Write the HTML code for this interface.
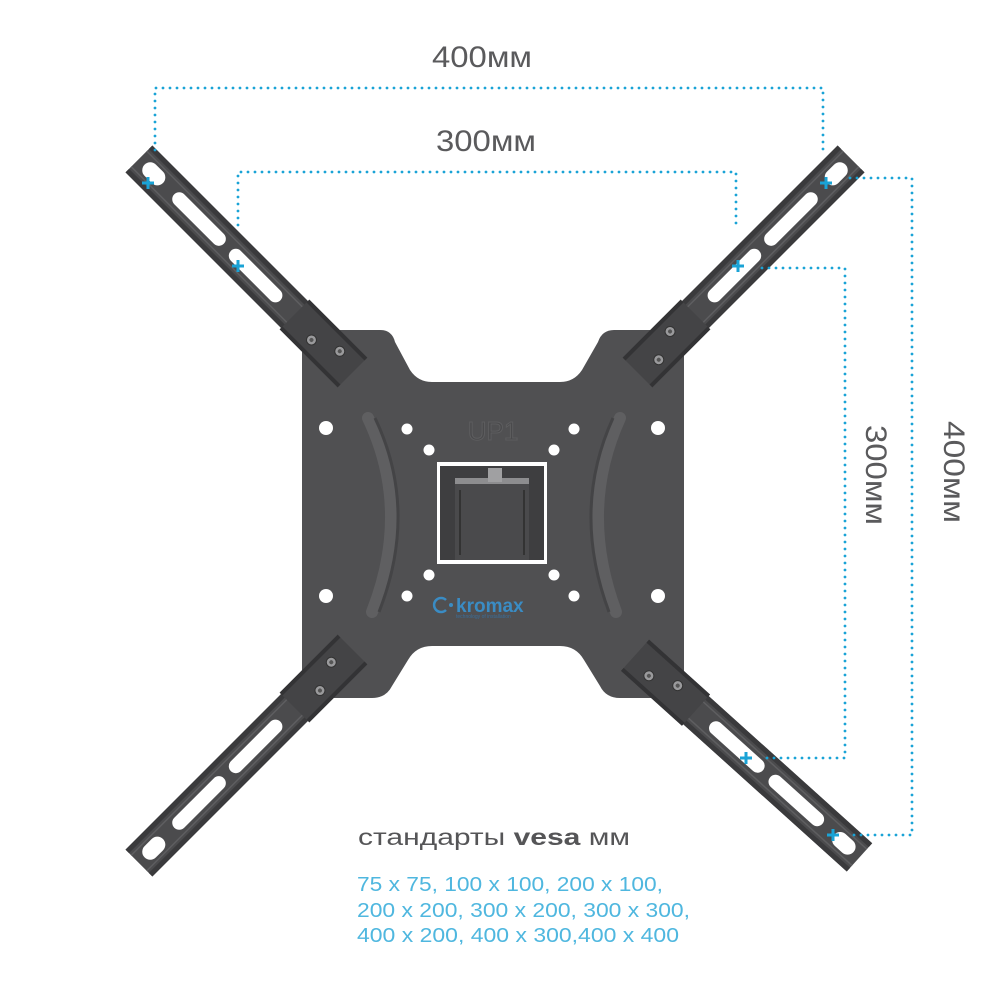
<!DOCTYPE html>
<html><head><meta charset="utf-8"><style>
html,body{margin:0;padding:0;background:#fff;}
svg{display:block;}
text{font-family:"Liberation Sans","DejaVu Sans",sans-serif;}
</style></head><body>
<svg width="1000" height="1000" viewBox="0 0 1000 1000" xmlns="http://www.w3.org/2000/svg">
<defs>
<g id="arm">
  <rect x="-150" y="-19" width="300" height="38" fill="#4b4b4d"/>
  <rect x="-150" y="-19" width="300" height="5" fill="#3a3a3c"/>
  <rect x="-150" y="14" width="300" height="5" fill="#3a3a3c"/>
  <line x1="-150" y1="-11" x2="150" y2="-11" stroke="#5e5e60" stroke-width="1.5"/>
  <line x1="-150" y1="11" x2="150" y2="11" stroke="#5e5e60" stroke-width="1.5"/>
  <rect x="-142" y="-8" width="26" height="16" rx="8" fill="#fff"/>
  <rect x="-100" y="-7" width="70" height="14" rx="7" fill="#fff"/>
  <rect x="-20" y="-7" width="70" height="14" rx="7" fill="#fff"/>
  <rect x="70" y="-21" width="82" height="42" fill="#444446"/>
  <rect x="70" y="-21" width="82" height="4" fill="#333335"/>
  <rect x="70" y="17" width="82" height="4" fill="#333335"/>
  <circle cx="100" cy="6" r="5" fill="#9a9a9c" stroke="#333" stroke-width="1"/>
  <circle cx="100" cy="6" r="2" fill="#555"/>
  <circle cx="128" cy="-6" r="5" fill="#9a9a9c" stroke="#333" stroke-width="1"/>
  <circle cx="128" cy="-6" r="2" fill="#555"/>
</g>
<g id="plus"><path d="M-6 0H6M0 -6V6" stroke="#1aa3d6" stroke-width="3"/></g>
</defs>

<path d="M348 330 L380 330 Q392 330 395 342 L410 370 Q418 382 432 382 L560 382 Q574 382 582 370 L598 342 Q602 330 614 330 L670 330 Q684 330 684 344 L684 684 Q684 698 670 698 L620 698 Q606 698 600 686 L584 660 Q576 646 560 646 L432 646 Q416 646 408 660 L392 686 Q386 698 372 698 L316 698 Q302 698 302 684 L302 344 Q302 330 316 330 Z" fill="#505052"/>
<path d="M368 418 Q412 510 372 612" stroke="#5f5f61" stroke-width="12" fill="none" stroke-linecap="round"/>
<path d="M368 418 Q412 510 372 612" stroke="#444446" stroke-width="3" fill="none" transform="translate(7,0)"/>
<path d="M620 418 Q578 510 616 612" stroke="#5f5f61" stroke-width="12" fill="none" stroke-linecap="round"/>
<path d="M620 418 Q578 510 616 612" stroke="#444446" stroke-width="3" fill="none" transform="translate(-7,0)"/>
<text x="493" y="440" font-size="26" fill="#4a4a4c" stroke="#5d5d5f" stroke-width="1" text-anchor="middle">UP1</text>
<g fill="#fff">
<circle cx="326" cy="428" r="7"/><circle cx="658" cy="428" r="7"/>
<circle cx="326" cy="596" r="7"/><circle cx="658" cy="596" r="7"/>
<circle cx="407" cy="429" r="5.5"/><circle cx="574" cy="429" r="5.5"/>
<circle cx="429" cy="450" r="5.5"/><circle cx="554" cy="450" r="5.5"/>
<circle cx="429" cy="575" r="5.5"/><circle cx="554" cy="575" r="5.5"/>
<circle cx="407" cy="596" r="5.5"/><circle cx="574" cy="596" r="5.5"/>
</g>
<rect x="437" y="462" width="110" height="102" fill="#fff"/>
<rect x="440" y="466" width="104" height="94" fill="#3e3e40"/>
<rect x="455" y="482" width="74" height="78" fill="#4a4a4c"/>
<rect x="455" y="478" width="74" height="6" fill="#8d8d8f"/>
<rect x="488" y="468" width="14" height="14" fill="#a0a0a2"/>
<line x1="460" y1="490" x2="460" y2="555" stroke="#333" stroke-width="2"/>
<line x1="524" y1="490" x2="524" y2="555" stroke="#333" stroke-width="2"/>
<text x="456" y="612" font-size="19" fill="#3a8cc4" font-weight="bold">kromax</text>
<path d="M446 600 a7 7 0 1 0 0 10" stroke="#3a8cc4" stroke-width="2.5" fill="none"/>
<circle cx="451" cy="605" r="2" fill="#3a8cc4"/>
<text x="456" y="618" font-size="5" fill="#3a6e9a">technology of installation</text>

<use href="#arm" transform="translate(245,265) rotate(45)"/>
<use href="#arm" transform="translate(745,265) rotate(135)"/>
<use href="#arm" transform="translate(245,757) rotate(-45)"/>
<use href="#arm" transform="translate(748,757) rotate(-138)"/>

<g stroke="#1aa3d6" stroke-width="2.8" stroke-linecap="round" stroke-dasharray="0 7" fill="none">
<path d="M155 150 V88 H823 V150"/>
<path d="M238 225 V172 H736 V225"/>
<path d="M850 178 H912 V835 H850"/>
<path d="M762 268 H845 V758 H762"/>
</g>
<use href="#plus" transform="translate(148,183)"/>
<use href="#plus" transform="translate(238,266)"/>
<use href="#plus" transform="translate(826,183)"/>
<use href="#plus" transform="translate(738,266)"/>
<use href="#plus" transform="translate(746,758)"/>
<use href="#plus" transform="translate(833,835)"/>

<g fill="#5a5a5c" font-size="30">
<text x="432" y="67" textLength="100" lengthAdjust="spacingAndGlyphs">400мм</text>
<text x="436" y="151" textLength="100" lengthAdjust="spacingAndGlyphs">300мм</text>
<text transform="translate(866,425) rotate(90)" textLength="100" lengthAdjust="spacingAndGlyphs">300мм</text>
<text transform="translate(944,421) rotate(90)" textLength="102" lengthAdjust="spacingAndGlyphs">400мм</text>
</g>

<text x="358" y="845" font-size="23" fill="#555557" textLength="272" lengthAdjust="spacingAndGlyphs">стандарты <tspan font-weight="bold">vesa</tspan> мм</text>
<g fill="#4fb7df" font-size="20">
<text x="357" y="891" textLength="306" lengthAdjust="spacingAndGlyphs">75 x 75, 100 x 100, 200 x 100,</text>
<text x="357" y="917" textLength="333" lengthAdjust="spacingAndGlyphs">200 x 200, 300 x 200, 300 x 300,</text>
<text x="357" y="942" textLength="322" lengthAdjust="spacingAndGlyphs">400 x 200, 400 x 300,400 x 400</text>
</g>
</svg>
</body></html>
